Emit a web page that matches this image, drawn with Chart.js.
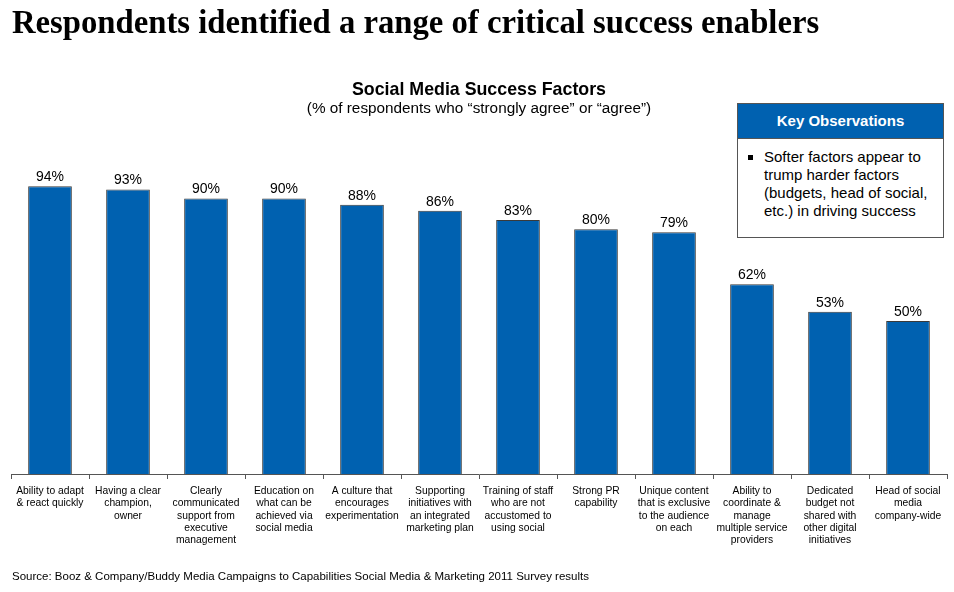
<!DOCTYPE html>
<html><head><meta charset="utf-8">
<script src="https://cdn.jsdelivr.net/npm/chart.js@4/dist/chart.umd.min.js"></script>
<style>
html,body{margin:0;padding:0;background:#fff;}
body{width:954px;height:592px;position:relative;overflow:hidden;font-family:"Liberation Sans",Arial,sans-serif;}
#title{position:absolute;left:12px;top:4px;font-family:"Liberation Serif","DejaVu Serif",serif;font-weight:bold;font-size:32.7px;color:#000;white-space:nowrap;}
#ctitle{position:absolute;left:0;width:958px;top:79px;text-align:center;font-weight:bold;font-size:17.8px;}
#csub{position:absolute;left:0;width:958px;top:99px;text-align:center;font-size:15.3px;}
#box{position:absolute;left:737px;top:103px;width:205px;height:133px;border:1px solid #555;background:#fff;}
#boxh{background:#0061B0;color:#fff;font-weight:bold;font-size:15px;text-align:center;height:34px;line-height:34px;border-bottom:1px solid #555;}
#boxb{font-size:15px;line-height:18px;padding:9px 6px 0 26px;position:relative;}
#boxb:before{content:"";position:absolute;left:10px;top:16px;width:5px;height:5px;background:#000;}
#src{position:absolute;left:12px;top:570px;font-size:11.5px;}
#wrap{position:absolute;left:0;top:0;width:954px;height:592px;}
</style></head><body>
<div id="wrap"><canvas id="c"></canvas></div>
<div id="title">Respondents identified a range of critical success enablers</div>
<div id="ctitle">Social Media Success Factors</div>
<div id="csub">(% of respondents who “strongly agree” or “agree”)</div>
<div id="box"><div id="boxh">Key Observations</div><div id="boxb">Softer factors appear to trump harder factors (budgets, head of social, etc.) in driving success</div></div>
<div id="src">Source: Booz &amp; Company/Buddy Media Campaigns to Capabilities Social Media &amp; Marketing 2011 Survey results</div>
<script>
const categories = [
  ["Ability to adapt","& react quickly"],
  ["Having a clear","champion,","owner"],
  ["Clearly","communicated","support from","executive","management"],
  ["Education on","what can be","achieved via","social media"],
  ["A culture that","encourages","experimentation"],
  ["Supporting","initiatives with","an integrated","marketing plan"],
  ["Training of staff","who are not","accustomed to","using social"],
  ["Strong PR","capability"],
  ["Unique content","that is exclusive","to the audience","on each"],
  ["Ability to","coordinate &","manage","multiple service","providers"],
  ["Dedicated","budget not","shared with","other digital","initiatives"],
  ["Head of social","media","company-wide"]
];
const values = [94, 93, 90, 90, 88, 86, 83, 80, 79, 62, 53, 50];

const labelPlugin = {
  id: 'vals',
  afterDatasetsDraw(chart) {
    const ctx = chart.ctx;
    const meta = chart.getDatasetMeta(0);
    ctx.save();
    ctx.font = '14px "Liberation Sans", Arial, sans-serif';
    ctx.fillStyle = '#000';
    ctx.textAlign = 'center';
    ctx.textBaseline = 'bottom';
    meta.data.forEach((bar, i) => {
      ctx.fillText(values[i] + '%', bar.x, bar.y - 2);
    });
    ctx.restore();
  }
};

new Chart(document.getElementById('c'), {
  type: 'bar',
  data: {
    labels: categories,
    datasets: [{
      data: values,
      backgroundColor: '#0061B0',
      borderColor: '#3a3a3a',
      borderWidth: 1,
      barPercentage: 0.56,
      categoryPercentage: 1.0
    }]
  },
  options: {
    responsive: true,
    maintainAspectRatio: false,
    animation: false,
    devicePixelRatio: 1,
    layout: { padding: { left: 11, right: 7, top: 168, bottom: 0 } },
    plugins: { legend: { display: false }, tooltip: { enabled: false } },
    scales: {
      y: { display: false, min: 0, max: 100 },
      x: {
        afterFit(s) { s.height = 118; },
        border: { display: true, color: '#555', width: 1 },
        grid: { offset: true, drawOnChartArea: false, drawTicks: true, tickLength: 5, color: '#555' },
        ticks: {
          color: '#000',
          maxRotation: 0,
          autoSkip: false,
          padding: 6,
          font: { family: '"Liberation Sans", Arial, sans-serif', size: 10.3, lineHeight: '12.3px' }
        }
      }
    }
  },
  plugins: [labelPlugin]
});
</script>
</body></html>
